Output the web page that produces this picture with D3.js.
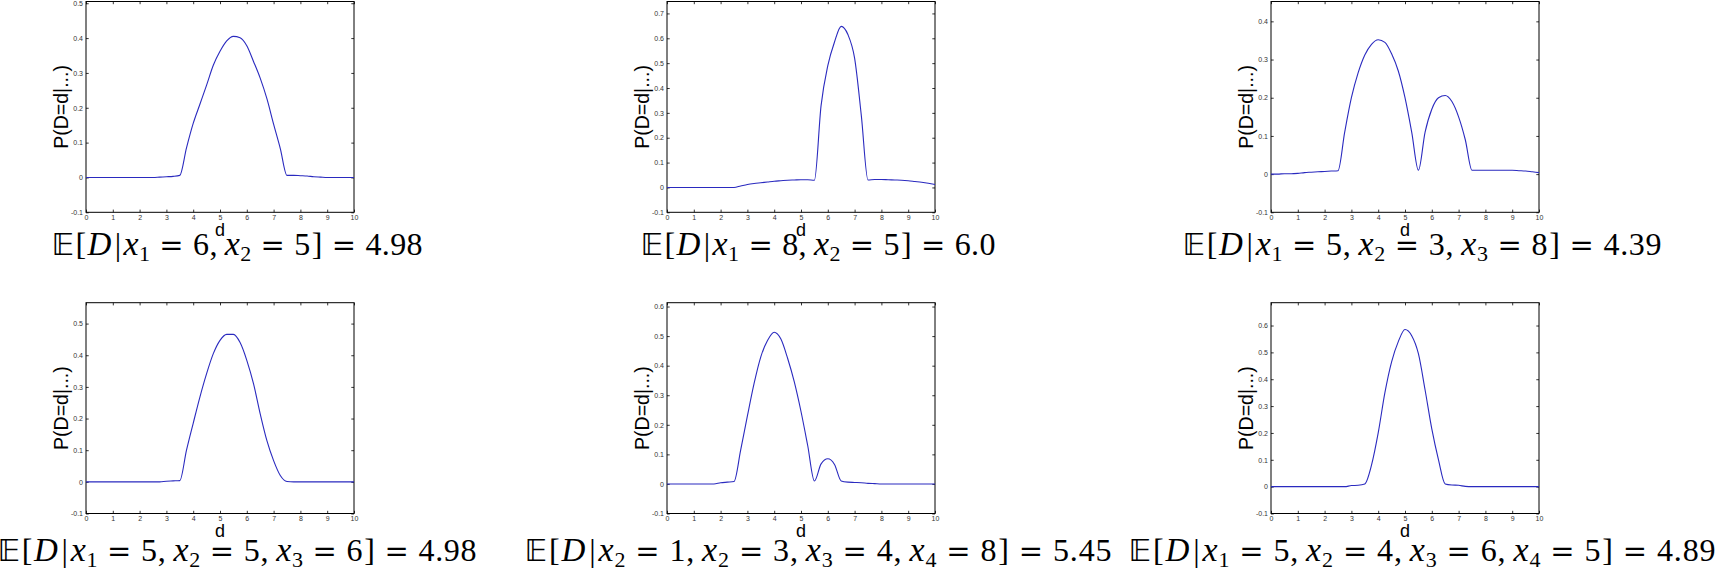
<!DOCTYPE html>
<html><head><meta charset="utf-8">
<script src="https://cdn.jsdelivr.net/npm/d3@7"></script>
<style>body{margin:0;background:#fff}svg{display:block}</style>
</head><body>
<svg id="c" width="1725" height="568"></svg>
<script>
// sample positions d (x-axis)
const dValues = [0,0.25,0.5,0.75,1,1.25,1.5,1.75,2,2.25,2.5,2.75,3,3.25,3.5,3.75,4,4.25,4.5,4.75,5,5.25,5.5,5.75,6,6.25,6.5,6.75,7,7.25,7.5,7.75,8,8.25,8.5,8.75,9,9.25,9.5,9.75,10];
const xTicks = [0,1,2,3,4,5,6,7,8,9,10];

// P(D=d|...) for each panel
const p1 = [0,0,0,0,0,0,0,0,0,0,0,0.001,0.002,0.003,0.006,0.085,0.155,0.21,0.265,0.322,0.362,0.392,0.405,0.401,0.378,0.333,0.285,0.226,0.153,0.083,0.006,0.006,0.005,0.004,0.002,0.001,0,0,0,0,0];
const p2 = [0,0,0,0,0,0,0,0,0,0,0,0.006,0.012,0.016,0.019,0.022,0.025,0.027,0.029,0.03,0.031,0.031,0.029,0.33,0.49,0.585,0.648,0.615,0.52,0.29,0.03,0.032,0.032,0.031,0.03,0.029,0.027,0.024,0.021,0.017,0.012];
const p3 = [0,0,0.001,0.001,0.002,0.004,0.005,0.006,0.007,0.008,0.009,0.11,0.2,0.265,0.312,0.34,0.352,0.345,0.315,0.27,0.2,0.11,0.01,0.11,0.17,0.2,0.206,0.19,0.15,0.09,0.01,0.01,0.01,0.01,0.01,0.01,0.01,0.009,0.008,0.006,0.004];
const p4 = [0,0,0,0,0,0,0,0,0,0,0,0,0.002,0.003,0.004,0.1,0.185,0.268,0.342,0.405,0.447,0.466,0.466,0.44,0.384,0.31,0.215,0.13,0.067,0.02,0.001,0,0,0,0,0,0,0,0,0,0];
const p5 = [0,0,0,0,0,0,0,0,0.004,0.006,0.008,0.115,0.23,0.34,0.43,0.485,0.513,0.49,0.425,0.345,0.245,0.13,0.01,0.068,0.085,0.066,0.01,0.006,0.005,0.004,0.002,0.001,0,0,0,0,0,0,0,0,0];
const p6 = [0,0,0,0,0,0,0,0,0,0,0,0,0.004,0.005,0.01,0.08,0.2,0.35,0.465,0.54,0.585,0.562,0.495,0.36,0.215,0.1,0.01,0.006,0.005,0.001,0,0,0,0,0,0,0,0,0,0,0];

// conditioning evidence [variable index, value] and expectations
const cond1 = [[1,6],[2,5]];
const cond2 = [[1,8],[2,5]];
const cond3 = [[1,5],[2,3],[3,8]];
const cond4 = [[1,5],[2,5],[3,6]];
const cond5 = [[2,1],[2,3],[3,4],[4,8]];
const cond6 = [[1,5],[2,4],[3,6],[4,5]];
const expectations = ["4.98","6.0","4.39","4.98","5.45","4.89"];

const yLabel = "P(D=d|...)";
const xLabel = "d";

const panels = [
  {vals:p1, cond:cond1, ev:expectations[0], col:0, row:0},
  {vals:p2, cond:cond2, ev:expectations[1], col:1, row:0},
  {vals:p3, cond:cond3, ev:expectations[2], col:2, row:0},
  {vals:p4, cond:cond4, ev:expectations[3], col:0, row:1},
  {vals:p5, cond:cond5, ev:expectations[4], col:1, row:1},
  {vals:p6, cond:cond6, ev:expectations[5], col:2, row:1}
];

const colLeft = [86, 667, 1271];
const rowTop = [1.5, 302.7];
const W = 268, H = 210.8;
const capBase = [255, 561];
const TS = 2.7;

const svg = d3.select('#c');
const fmt = v => String(Math.round(v*10)/10);

panels.forEach(p => {
  const left = colLeft[p.col], top = rowTop[p.row];
  const g = svg.append('g').attr('transform', `translate(${left},${top})`);
  const ymax = d3.max(p.vals) + 0.1;
  const x = d3.scaleLinear().domain([0,10]).range([0,W]);
  const y = d3.scaleLinear().domain([-0.1, ymax]).range([H,0]);
  const yTicks = d3.range(-1, Math.floor(ymax*10+1e-6)+1).map(k => k/10);

  const style = sel => {
    sel.select('.domain').remove();
    sel.selectAll('line').attr('stroke','#000').attr('stroke-width',0.8);
    sel.selectAll('text').attr('font-family','"Liberation Sans", Arial, sans-serif').attr('font-size',7).attr('fill','#333');
  };
  g.append('g').attr('transform',`translate(0,${H})`)
    .call(d3.axisBottom(x).tickValues(xTicks).tickSize(-TS).tickSizeOuter(0).tickPadding(3).tickFormat(fmt)).call(style);
  g.append('g')
    .call(d3.axisTop(x).tickValues(xTicks).tickSize(-TS).tickSizeOuter(0).tickFormat('')).call(style);
  g.append('g')
    .call(d3.axisLeft(y).tickValues(yTicks).tickSize(-TS).tickSizeOuter(0).tickPadding(3).tickFormat(fmt)).call(style);
  g.append('g').attr('transform',`translate(${W},0)`)
    .call(d3.axisRight(y).tickValues(yTicks).tickSize(-TS).tickSizeOuter(0).tickFormat('')).call(style);

  g.append('rect').attr('x',0).attr('y',0).attr('width',W).attr('height',H)
    .attr('fill','none').attr('stroke','#000').attr('stroke-width',1);

  const pts = dValues.map((d,i) => [d, p.vals[i]]);
  g.append('path').datum(pts)
    .attr('d', d3.line().curve(d3.curveMonotoneX).x(d => x(d[0])).y(d => y(d[1])))
    .attr('fill','none').attr('stroke','#2a2abf').attr('stroke-width',1.1).attr('stroke-linejoin','round');

  g.append('text').attr('transform',`translate(-25,${H/2}) rotate(-90)`)
    .attr('text-anchor','middle').attr('dominant-baseline','central')
    .attr('font-family','"Liberation Sans", Arial, sans-serif').attr('font-size',19.5)
    .text(yLabel);

  g.append('text').attr('x',W/2).attr('y',H+17.5)
    .attr('text-anchor','middle').attr('dominant-baseline','central')
    .attr('font-family','"Liberation Sans", Arial, sans-serif').attr('font-size',18)
    .text(xLabel);

  // caption
  const nC = p.cond.length;
  const capW = 371 + (nC - 2) * 108 - (p.ev.length < 4 ? 16 : 0);
  const t = svg.append('text').attr('x', left + W/2 + 17).attr('y', capBase[p.row])
    .attr('text-anchor','middle').attr('font-family','"Liberation Serif", "Times New Roman", serif')
    .attr('font-size',32).attr('fill','#000')
    .attr('textLength', capW).attr('lengthAdjust','spacing');
  const add = (s, o={}) => {
    const ts = t.append('tspan').text(s);
    if (o.it) ts.attr('font-style','italic');
    if (o.fs) ts.attr('font-size',o.fs);
    if (o.dx) ts.attr('dx',o.dx);
    if (o.dy) ts.attr('dy',o.dy);
    if (o.ff) ts.attr('font-family',o.ff);
    return ts;
  };
  const eqFF = '"DejaVu Serif", serif';
  add('𝔼', {ff:'"DejaVu Sans", "DejaVu Serif", sans-serif', fs:31});
  add('[', {dx:1});
  add('D', {it:true, dx:1, fs:33});
  add('|', {dx:3});
  p.cond.forEach(([i,n],k) => {
    add('x', {it:true, dx: k ? 7 : 2, fs:34});
    add(String(i), {fs:22, dy:6});
    add('=', {dy:-6, dx:9, ff:eqFF, fs:29});
    add(String(n), {dx:9});
    if (k < p.cond.length-1) add(',');
  });
  add(']', {dx:1});
  add('=', {dx:9, ff:eqFF, fs:29});
  add(p.ev, {dx:9});
});
</script>
</body></html>
